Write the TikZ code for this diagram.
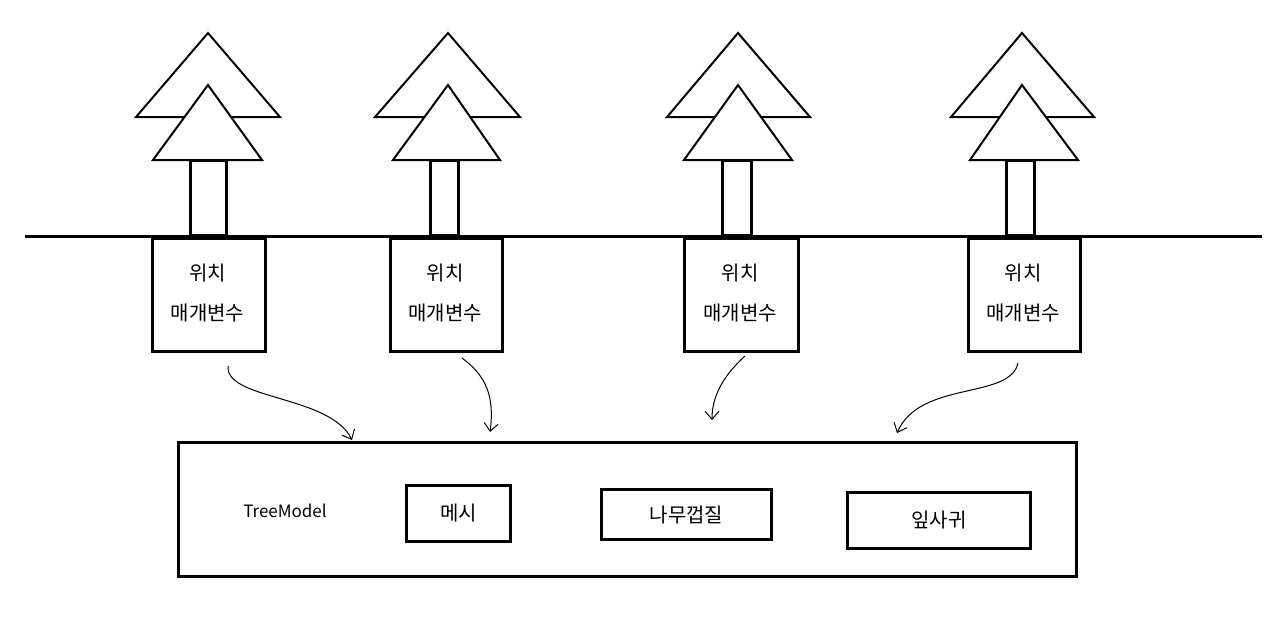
\documentclass[tikz,border=0pt]{standalone}
\usepackage{fontspec}
\setmainfont{Noto Sans CJK KR}
\usetikzlibrary{arrows.meta}
\begin{document}
\begin{tikzpicture}[x=1pt,y=-1pt,line width=3pt,
  box/.style={draw,line width=3pt},
  arr/.style={line width=1pt,-{Straight Barb[length=8pt,width=14pt]}},
  lbl/.style={font=\fontsize{20}{24}\selectfont,align=center}]
\useasboundingbox (0,0) rectangle (1280,632);
\draw (25,236) -- (1262,236);
\foreach \n/\c/\ba/\bb/\sa/\sb/\ta/\tb/\xa/\xb in {1/208/136/280/153/262/190/226/151/264,2/448/375/520/393/500/430/458/389/501,3/738/667/810/684/792/722/751/683/797,4/1022/951/1094/970/1078/1006/1034/967/1079}{
  \draw[line width=2pt,line join=miter] (\c,33) -- (\ba,117) -- (\bb,117) -- cycle;
  \draw[line width=2pt,fill=white] (\c,85) -- (\sa,160) -- (\sb,160) -- cycle;
  \draw[line width=3pt] (\ta,160) rectangle (\tb,235);
  \node[box,minimum width={\xb-\xa},minimum height=113,anchor=north west,inner sep=0pt] (p\n) at (\xa,237) {};
  \node[lbl] at ({(\xa+\xb)/2},273) {위치};
  \node[lbl] at ({(\xa+\xb)/2},313) {매개변수};
}
\node[box,minimum width=898,minimum height=134,anchor=north west,inner sep=0pt] (tm) at (177,441) {};
\node[font=\fontsize{17}{20}\selectfont] (tml) at (285,511) {TreeModel};
\node[box,minimum width=104,minimum height=56,anchor=north west,inner sep=0pt,font=\fontsize{20}{24}\selectfont] (mesh) at (405,484) {메시};
\node[box,minimum width=170,minimum height=50,anchor=north west,inner sep=0pt,font=\fontsize{20}{24}\selectfont] (bark) at (600,488) {나무껍질};
\node[box,minimum width=183,minimum height=56,anchor=north west,inner sep=0pt,font=\fontsize{20}{24}\selectfont] (leaf) at (846,491) {잎사귀};
\coordinate (a1) at (228,366); \coordinate (b1) at (352,440);
\coordinate (a2) at (462,358); \coordinate (b2) at (490,432);
\coordinate (a3) at (745,356); \coordinate (b3) at (712,420);
\coordinate (a4) at (1018,363); \coordinate (b4) at (897,433);
\draw[arr] (a1) .. controls (225,400) and (330,395) .. (b1);
\draw[arr] (a2) .. controls (485,375) and (495,395) .. (b2);
\draw[arr] (a3) .. controls (730,370) and (712,390) .. (b3);
\draw[arr] (a4) .. controls (1010,400) and (920,380) .. (b4);
\end{tikzpicture}
\end{document}
